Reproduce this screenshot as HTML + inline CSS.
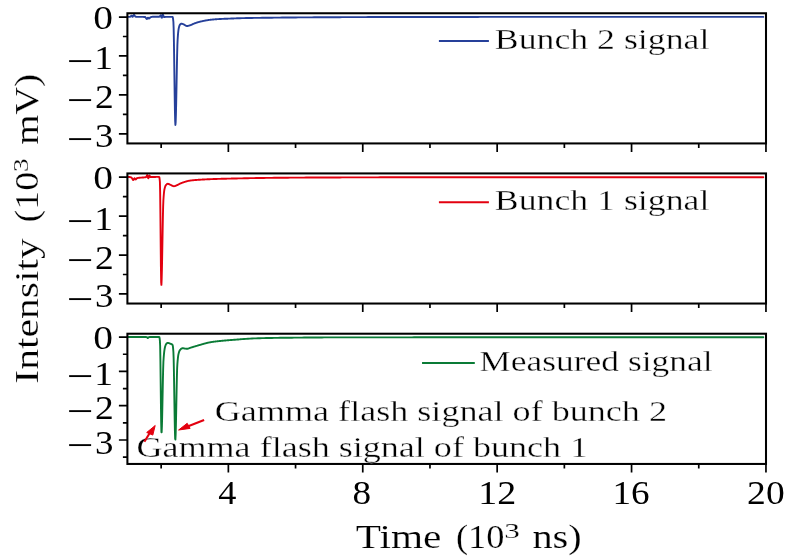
<!DOCTYPE html>
<html><head><meta charset="utf-8"><title>Intensity vs Time</title>
<style>html,body{margin:0;padding:0;background:#fff;width:785px;height:556px;overflow:hidden}svg{display:block}</style>
</head><body>
<svg width="785" height="556" viewBox="0 0 785 556">
<rect width="785" height="556" fill="#fff"/>
<clipPath id="c0"><rect x="127.4" y="13.3" width="638.6" height="130.2"/></clipPath>
<clipPath id="c1"><rect x="127.4" y="173.4" width="638.6" height="130.1"/></clipPath>
<clipPath id="c2"><rect x="127.4" y="333.7" width="638.6" height="130.2"/></clipPath>
<path d="M127.90 16.90L128.15 16.89L128.40 16.88L128.65 16.87L128.90 16.86L129.15 16.85L129.40 16.84L129.65 16.83L129.90 16.81L130.15 16.76L130.40 16.59L130.65 16.34L130.90 16.07L131.15 15.85L131.40 15.71L131.65 15.77L131.90 16.09L132.15 16.49L132.40 16.77L132.65 16.75L132.90 16.47L133.15 16.04L133.40 15.57L133.65 15.16L133.90 14.92L134.15 14.94L134.40 15.17L134.65 15.53L134.90 15.93L135.15 16.30L135.40 16.55L135.65 16.65L135.90 16.73L136.15 16.79L136.40 16.84L136.65 16.88L136.90 16.90L137.15 16.90L137.40 16.90L137.65 16.90L137.90 16.90L138.15 16.90L138.40 16.90L138.65 16.90L138.90 16.90L139.15 16.90L139.40 16.90L139.65 16.90L139.90 16.90L140.15 16.90L140.40 16.90L140.65 16.90L140.90 16.90L141.15 16.90L141.40 16.90L141.65 16.90L141.90 16.90L142.15 16.90L142.40 16.90L142.65 16.90L142.90 16.91L143.15 16.91L143.40 16.92L143.65 16.93L143.90 16.94L144.15 16.95L144.40 16.96L144.65 16.98L144.90 16.99L145.15 17.04L145.40 17.25L145.65 17.56L145.90 17.94L146.15 18.32L146.40 18.66L146.65 18.91L146.90 19L147.15 18.82L147.40 18.40L147.65 17.94L147.90 17.63L148.15 17.65L148.40 17.92L148.65 18.25L148.90 18.47L149.15 18.47L149.40 18.32L149.65 18.08L149.90 17.80L150.15 17.54L150.40 17.35L150.65 17.24L150.90 17.16L151.15 17.07L151.40 17L151.65 16.93L151.90 16.88L152.15 16.84L152.40 16.81L152.65 16.80L152.90 16.79L153.15 16.78L153.40 16.78L153.65 16.77L153.90 16.77L154.15 16.77L154.40 16.76L154.65 16.76L154.90 16.76L155.15 16.76L155.40 16.76L155.65 16.76L155.90 16.75L156.15 16.75L156.40 16.75L156.65 16.75L156.90 16.75L157.15 16.75L157.40 16.75L157.65 16.74L157.90 16.74L158.15 16.74L158.40 16.73L158.65 16.73L158.90 16.72L159.15 16.71L159.40 16.70L159.65 16.64L159.90 16.35L160.15 15.94L160.40 15.54L160.65 15.25L160.90 15.27L161.15 15.93L161.40 16.88L161.65 17.64L161.90 17.71L162.15 16.90L162.40 15.73L162.65 14.79L162.90 14.65L163.15 15.09L163.40 15.80L163.65 16.51L163.90 16.95L164.15 17L164.40 16.99L164.65 16.98L164.90 16.96L165.15 16.94L165.40 16.92L165.65 16.91L165.90 16.90L166.15 16.90L166.40 16.90L166.65 16.90L166.90 16.90L167.15 16.90L167.40 16.90L167.65 16.90L167.90 16.90L168.15 16.90L168.40 16.90L168.65 16.90L168.90 16.90L169.15 16.90L169.40 16.90L169.65 16.90L169.90 16.90L170.15 16.90L170.40 16.90L170.65 16.90L170.90 16.90L171.15 16.90L171.40 16.90L171.65 16.90L171.90 16.90L172.15 16.90L172.40 16.90L172.65 16.93L172.90 17.80L173.15 19.61L173.40 22L173.65 28.38L173.90 40.96L174.15 57.58L174.40 76.05L174.65 94.20L174.90 109.86L175.15 120.85L175.40 125L175.65 122.36L175.90 115.23L176.15 104.80L176.40 92.25L176.65 78.77L176.90 65.55L177.15 53.77L177.40 44.63L177.65 39.21L177.90 35.59L178.15 32.58L178.40 30.28L178.65 28.75L178.90 27.60L179.15 26.61L179.40 25.80L179.65 25.17L179.90 24.72L180.15 24.44L180.40 24.20L180.65 24L180.90 23.84L181.15 23.74L181.40 23.70L181.65 23.71L181.90 23.75L182.15 23.81L182.40 23.89L182.65 23.98L182.90 24.07L183.15 24.17L183.40 24.26L183.65 24.36L183.90 24.47L184.15 24.61L184.40 24.75L184.65 24.91L184.90 25.08L185.15 25.24L185.40 25.40L185.65 25.55L185.90 25.69L186.15 25.80L186.40 25.90L186.65 25.96L186.90 26L187.15 26L187.40 25.98L187.65 25.95L187.90 25.90L188.15 25.85L188.40 25.79L188.65 25.72L188.90 25.64L189.15 25.56L189.40 25.49L189.65 25.41L189.90 25.33L190.15 25.25L190.40 25.17L190.65 25.08L190.90 24.99L191.15 24.89L191.40 24.78L191.65 24.67L191.90 24.56L192.15 24.45L192.40 24.33L192.65 24.21L192.90 24.10L193.15 23.98L193.40 23.86L193.65 23.75L193.90 23.64L194.15 23.53L194.40 23.43L194.65 23.33L194.90 23.24L195.15 23.15L195.40 23.06L195.65 22.98L195.90 22.89L196.15 22.81L196.40 22.73L196.65 22.65L196.90 22.57L197.15 22.49L197.40 22.41L197.65 22.34L197.90 22.26L198.15 22.19L198.40 22.12L198.65 22.05L198.90 21.98L199.15 21.91L199.40 21.84L199.65 21.78L199.90 21.71L200.15 21.65L200.40 21.59L200.65 21.53L200.90 21.48L201.15 21.42L201.40 21.37L201.65 21.31L201.90 21.26L202.15 21.20L202.40 21.15L202.65 21.09L202.90 21.04L203.15 20.99L203.40 20.94L203.65 20.88L203.90 20.83L204.15 20.78L204.40 20.73L204.65 20.68L204.90 20.64L205.15 20.59L205.40 20.54L205.65 20.49L205.90 20.45L206.15 20.40L206.40 20.36L206.65 20.32L206.90 20.27L207.15 20.23L207.40 20.19L207.65 20.15L207.90 20.11L208.15 20.07L208.40 20.03L208.65 20L208.90 19.96L209.15 19.93L209.40 19.89L209.65 19.86L209.90 19.83L210.15 19.80L210.40 19.77L210.65 19.74L210.90 19.71L211.15 19.68L211.40 19.66L211.65 19.63L211.90 19.61L212.15 19.58L212.40 19.56L212.65 19.53L212.90 19.51L213.15 19.49L213.40 19.46L213.65 19.44L213.90 19.42L214.15 19.40L214.40 19.38L214.65 19.36L214.90 19.34L215.15 19.32L215.40 19.30L215.65 19.28L215.90 19.26L216.15 19.24L216.40 19.22L216.65 19.21L216.90 19.19L217.15 19.17L217.40 19.15L217.65 19.14L217.90 19.12L218.15 19.11L218.40 19.09L218.65 19.08L218.90 19.06L219.15 19.05L219.40 19.03L219.65 19.02L219.90 19.01L220.15 18.99L220.40 18.98L220.65 18.97L220.90 18.95L221.15 18.94L221.40 18.93L221.65 18.92L221.90 18.91L222.15 18.90L222.40 18.89L222.65 18.88L222.90 18.86L223.15 18.85L223.40 18.84L223.65 18.83L223.90 18.82L224.15 18.82L224.40 18.81L224.65 18.80L224.90 18.79L225.15 18.78L225.40 18.77L225.65 18.76L225.90 18.75L226.15 18.74L226.40 18.73L226.65 18.72L226.90 18.72L227.15 18.71L227.40 18.70L227.65 18.69L227.90 18.68L228.15 18.67L228.40 18.66L228.65 18.65L228.90 18.64L229.15 18.63L229.40 18.62L229.65 18.61L229.90 18.60L230.15 18.59L230.40 18.58L230.65 18.57L230.90 18.56L231.15 18.55L231.40 18.54L231.65 18.53L231.90 18.52L232.15 18.51L232.40 18.50L232.65 18.49L232.90 18.48L233.15 18.46L233.40 18.45L233.65 18.44L233.90 18.43L234.15 18.42L234.40 18.41L234.65 18.40L234.90 18.39L235.15 18.38L235.40 18.36L235.65 18.35L235.90 18.34L236.15 18.33L236.40 18.32L236.65 18.31L236.90 18.30L237.15 18.29L237.40 18.28L237.65 18.27L237.90 18.26L238.15 18.26L238.40 18.25L238.65 18.24L238.90 18.23L239.15 18.22L239.40 18.22L239.65 18.21L239.90 18.20L240 18.20L242 18.15L244 18.11L246 18.06L248 18.02L250 17.99L252 17.95L254 17.92L256 17.89L258 17.86L260 17.83L262 17.80L264 17.78L266 17.75L268 17.73L270 17.70L272 17.68L274 17.65L276 17.63L278 17.60L280 17.58L282 17.56L284 17.54L286 17.52L288 17.50L290 17.48L292 17.46L294 17.44L296 17.43L298 17.41L300 17.40L302 17.39L304 17.38L306 17.36L308 17.35L310 17.34L312 17.33L314 17.32L316 17.31L318 17.29L320 17.28L322 17.27L324 17.26L326 17.25L328 17.24L330 17.23L332 17.22L334 17.21L336 17.20L338 17.19L340 17.18L342 17.17L344 17.16L346 17.15L348 17.15L350 17.14L352 17.13L354 17.12L356 17.11L358 17.11L360 17.10L362 17.09L364 17.08L366 17.08L368 17.07L370 17.07L372 17.06L374 17.05L376 17.05L378 17.04L380 17.04L382 17.03L384 17.03L386 17.02L388 17.02L390 17.02L392 17.01L394 17.01L396 17.01L398 17L400 17L402 17L404 17L406 16.99L408 16.99L410 16.99L412 16.99L414 16.98L416 16.98L418 16.98L420 16.98L422 16.97L424 16.97L426 16.97L428 16.97L430 16.97L432 16.96L434 16.96L436 16.96L438 16.96L440 16.96L442 16.95L444 16.95L446 16.95L448 16.95L450 16.95L452 16.95L454 16.94L456 16.94L458 16.94L460 16.94L462 16.94L464 16.94L466 16.93L468 16.93L470 16.93L472 16.93L474 16.93L476 16.93L478 16.93L480 16.92L482 16.92L484 16.92L486 16.92L488 16.92L490 16.92L492 16.92L494 16.92L496 16.91L498 16.91L500 16.91L502 16.91L504 16.91L506 16.91L508 16.91L510 16.91L512 16.91L514 16.91L516 16.91L518 16.91L520 16.90L522 16.90L524 16.90L526 16.90L528 16.90L530 16.90L532 16.90L534 16.90L536 16.90L538 16.90L540 16.90L542 16.90L544 16.90L546 16.90L548 16.90L550 16.90L552 16.90L554 16.90L556 16.90L558 16.90L560 16.90L562 16.90L564 16.90L566 16.90L568 16.90L570 16.90L572 16.90L574 16.90L576 16.90L578 16.90L580 16.90L582 16.90L584 16.90L586 16.90L588 16.90L590 16.90L592 16.90L594 16.90L596 16.90L598 16.90L600 16.90L602 16.90L604 16.90L606 16.90L608 16.90L610 16.90L612 16.90L614 16.90L616 16.90L618 16.90L620 16.90L622 16.90L624 16.90L626 16.90L628 16.90L630 16.90L632 16.90L634 16.90L636 16.90L638 16.90L640 16.90L642 16.90L644 16.90L646 16.90L648 16.90L650 16.90L652 16.90L654 16.90L656 16.90L658 16.90L660 16.90L662 16.90L664 16.90L666 16.90L668 16.90L670 16.90L672 16.90L674 16.90L676 16.90L678 16.90L680 16.90L682 16.90L684 16.90L686 16.90L688 16.90L690 16.90L692 16.90L694 16.90L696 16.90L698 16.90L700 16.90L702 16.90L704 16.90L706 16.90L708 16.90L710 16.90L712 16.90L714 16.90L716 16.90L718 16.90L720 16.90L722 16.90L724 16.90L726 16.90L728 16.90L730 16.90L732 16.90L734 16.90L736 16.90L738 16.90L740 16.90L742 16.90L744 16.90L746 16.90L748 16.90L750 16.90L752 16.90L754 16.90L756 16.90L758 16.90L760 16.90L762 16.90L763.30 16.90" fill="none" stroke="#26409a" stroke-width="1.9" stroke-linejoin="round" stroke-linecap="round" clip-path="url(#c0)"/>
<path d="M127.90 176.90L128.15 176.92L128.40 176.94L128.65 176.96L128.90 176.98L129.15 177L129.40 177.03L129.65 177.05L129.90 177.09L130.15 177.13L130.40 177.18L130.65 177.25L130.90 177.33L131.15 177.43L131.40 177.55L131.65 177.71L131.90 178.03L132.15 178.45L132.40 178.92L132.65 179.37L132.90 179.73L133.15 179.96L133.40 179.96L133.65 179.63L133.90 179.10L134.15 178.57L134.40 178.24L134.65 178.27L134.90 178.59L135.15 179.03L135.40 179.39L135.65 179.50L135.90 179.36L136.15 179.10L136.40 178.78L136.65 178.47L136.90 178.25L137.15 178.15L137.40 178.08L137.65 178.02L137.90 177.96L138.15 177.92L138.40 177.88L138.65 177.85L138.90 177.81L139.15 177.78L139.40 177.75L139.65 177.73L139.90 177.70L140.15 177.68L140.40 177.66L140.65 177.64L140.90 177.63L141.15 177.61L141.40 177.59L141.65 177.58L141.90 177.56L142.15 177.55L142.40 177.53L142.65 177.52L142.90 177.50L143.15 177.48L143.40 177.47L143.65 177.45L143.90 177.42L144.15 177.40L144.40 177.37L144.65 177.34L144.90 177.31L145.15 177.28L145.40 177.24L145.65 177.20L145.90 177.14L146.15 177.06L146.40 176.88L146.65 176.14L146.90 175.30L147.15 175.02L147.40 175.52L147.65 176.44L147.90 177.44L148.15 178.16L148.40 178.24L148.65 177.65L148.90 176.77L149.15 175.95L149.40 175.60L149.65 175.80L149.90 176.25L150.15 176.74L150.40 177.07L150.65 177.10L150.90 177.08L151.15 177.06L151.40 177.04L151.65 177.02L151.90 177L152.15 177L152.40 176.99L152.65 176.98L152.90 176.98L153.15 176.97L153.40 176.97L153.65 176.96L153.90 176.96L154.15 176.95L154.40 176.95L154.65 176.94L154.90 176.94L155.15 176.93L155.40 176.93L155.65 176.93L155.90 176.92L156.15 176.92L156.40 176.92L156.65 176.91L156.90 176.91L157.15 176.91L157.40 176.91L157.65 176.90L157.90 176.90L158.15 176.90L158.40 176.90L158.65 176.90L158.90 176.90L159.15 176.90L159.40 177.41L159.65 179.26L159.90 182L160.15 192.76L160.40 214.66L160.65 241.19L160.90 265.89L161.15 282.27L161.40 284.91L161.65 279.81L161.90 270.32L162.15 257.84L162.40 243.80L162.65 229.58L162.90 216.60L163.15 206.27L163.40 200L163.65 196.49L163.90 193.54L164.15 191.19L164.40 189.49L164.65 188.38L164.90 187.45L165.15 186.67L165.40 186.02L165.65 185.50L165.90 185.12L166.15 184.84L166.40 184.59L166.65 184.36L166.90 184.16L167.15 183.99L167.40 183.88L167.65 183.81L167.90 183.80L168.15 183.84L168.40 183.90L168.65 183.99L168.90 184.10L169.15 184.21L169.40 184.33L169.65 184.45L169.90 184.56L170.15 184.66L170.40 184.77L170.65 184.89L170.90 185.01L171.15 185.14L171.40 185.28L171.65 185.41L171.90 185.54L172.15 185.66L172.40 185.78L172.65 185.89L172.90 185.99L173.15 186.07L173.40 186.13L173.65 186.18L173.90 186.20L174.15 186.20L174.40 186.17L174.65 186.12L174.90 186.06L175.15 185.98L175.40 185.89L175.65 185.79L175.90 185.68L176.15 185.57L176.40 185.46L176.65 185.35L176.90 185.24L177.15 185.14L177.40 185.03L177.65 184.91L177.90 184.79L178.15 184.66L178.40 184.53L178.65 184.39L178.90 184.26L179.15 184.12L179.40 183.99L179.65 183.85L179.90 183.73L180.15 183.60L180.40 183.49L180.65 183.38L180.90 183.27L181.15 183.17L181.40 183.07L181.65 182.97L181.90 182.87L182.15 182.77L182.40 182.68L182.65 182.58L182.90 182.49L183.15 182.40L183.40 182.31L183.65 182.23L183.90 182.14L184.15 182.06L184.40 181.98L184.65 181.90L184.90 181.83L185.15 181.76L185.40 181.68L185.65 181.61L185.90 181.54L186.15 181.47L186.40 181.40L186.65 181.33L186.90 181.26L187.15 181.19L187.40 181.13L187.65 181.07L187.90 181.01L188.15 180.95L188.40 180.89L188.65 180.84L188.90 180.79L189.15 180.74L189.40 180.69L189.65 180.65L189.90 180.61L190.15 180.58L190.40 180.55L190.65 180.51L190.90 180.48L191.15 180.45L191.40 180.42L191.65 180.39L191.90 180.36L192.15 180.33L192.40 180.31L192.65 180.28L192.90 180.25L193.15 180.23L193.40 180.20L193.65 180.18L193.90 180.15L194.15 180.13L194.40 180.11L194.65 180.09L194.90 180.06L195.15 180.04L195.40 180.02L195.65 180L195.90 179.98L196.15 179.96L196.40 179.94L196.65 179.93L196.90 179.91L197.15 179.89L197.40 179.87L197.65 179.85L197.90 179.84L198.15 179.82L198.40 179.80L198.65 179.79L198.90 179.77L199.15 179.75L199.40 179.74L199.65 179.72L199.90 179.71L200.15 179.69L200.40 179.68L200.65 179.66L200.90 179.64L201.15 179.63L201.40 179.61L201.65 179.60L201.90 179.59L202.15 179.57L202.40 179.56L202.65 179.54L202.90 179.53L203.15 179.51L203.40 179.50L203.65 179.49L203.90 179.47L204.15 179.46L204.40 179.45L204.65 179.43L204.90 179.42L205.15 179.41L205.40 179.40L205.65 179.38L205.90 179.37L206.15 179.36L206.40 179.35L206.65 179.34L206.90 179.32L207.15 179.31L207.40 179.30L207.65 179.29L207.90 179.28L208.15 179.27L208.40 179.26L208.65 179.24L208.90 179.23L209.15 179.22L209.40 179.21L209.65 179.20L209.90 179.19L210.15 179.18L210.40 179.17L210.65 179.16L210.90 179.15L211.15 179.14L211.40 179.13L211.65 179.12L211.90 179.11L212.15 179.10L212.40 179.09L212.65 179.08L212.90 179.07L213.15 179.07L213.40 179.06L213.65 179.05L213.90 179.04L214.15 179.03L214.40 179.02L214.65 179.01L214.90 179L215.15 178.99L215.40 178.99L215.65 178.98L215.90 178.97L216.15 178.96L216.40 178.95L216.65 178.95L216.90 178.94L217.15 178.93L217.40 178.92L217.65 178.91L217.90 178.91L218.15 178.90L218.40 178.89L218.65 178.89L218.90 178.88L219.15 178.87L219.40 178.86L219.65 178.86L219.90 178.85L220.15 178.84L220.40 178.84L220.65 178.83L220.90 178.82L221.15 178.82L221.40 178.81L221.65 178.80L221.90 178.80L222.15 178.79L222.40 178.78L222.65 178.78L222.90 178.77L223.15 178.76L223.40 178.76L223.65 178.75L223.90 178.74L224.15 178.74L224.40 178.73L224.65 178.73L224.90 178.72L225.15 178.71L225.40 178.71L225.65 178.70L225.90 178.70L226.15 178.69L226.40 178.68L226.65 178.68L226.90 178.67L227.15 178.67L227.40 178.66L227.65 178.65L227.90 178.65L228.15 178.64L228.40 178.64L228.65 178.63L228.90 178.63L229.15 178.62L229.40 178.61L229.65 178.61L229.90 178.60L230.15 178.60L230.40 178.59L230.65 178.58L230.90 178.58L231.15 178.57L231.40 178.57L231.65 178.56L231.90 178.56L232.15 178.55L232.40 178.54L232.65 178.54L232.90 178.53L233.15 178.53L233.40 178.52L233.65 178.52L233.90 178.51L234.15 178.50L234.40 178.50L234.65 178.49L234.90 178.49L235.15 178.48L235.40 178.48L235.65 178.47L235.90 178.46L236.15 178.46L236.40 178.45L236.65 178.45L236.90 178.44L237.15 178.44L237.40 178.43L237.65 178.42L237.90 178.42L238.15 178.41L238.40 178.41L238.65 178.40L238.90 178.40L239.15 178.39L239.40 178.38L239.65 178.38L239.90 178.37L240 178.37L242 178.33L244 178.28L246 178.24L248 178.20L250 178.16L252 178.13L254 178.09L256 178.06L258 178.03L260 178L262 177.97L264 177.95L266 177.92L268 177.90L270 177.87L272 177.85L274 177.82L276 177.80L278 177.78L280 177.76L282 177.74L284 177.72L286 177.70L288 177.68L290 177.67L292 177.65L294 177.64L296 177.62L298 177.61L300 177.60L302 177.59L304 177.58L306 177.57L308 177.56L310 177.55L312 177.54L314 177.53L316 177.52L318 177.52L320 177.51L322 177.50L324 177.49L326 177.48L328 177.47L330 177.47L332 177.46L334 177.45L336 177.44L338 177.44L340 177.43L342 177.42L344 177.41L346 177.41L348 177.40L350 177.39L352 177.39L354 177.38L356 177.38L358 177.37L360 177.37L362 177.36L364 177.36L366 177.35L368 177.35L370 177.34L372 177.34L374 177.33L376 177.33L378 177.33L380 177.32L382 177.32L384 177.32L386 177.31L388 177.31L390 177.31L392 177.31L394 177.30L396 177.30L398 177.30L400 177.30L402 177.30L404 177.30L406 177.30L408 177.30L410 177.29L412 177.29L414 177.29L416 177.29L418 177.29L420 177.29L422 177.29L424 177.29L426 177.29L428 177.28L430 177.28L432 177.28L434 177.28L436 177.28L438 177.28L440 177.28L442 177.28L444 177.28L446 177.28L448 177.28L450 177.27L452 177.27L454 177.27L456 177.27L458 177.27L460 177.27L462 177.27L464 177.27L466 177.27L468 177.27L470 177.27L472 177.27L474 177.26L476 177.26L478 177.26L480 177.26L482 177.26L484 177.26L486 177.26L488 177.26L490 177.26L492 177.26L494 177.26L496 177.26L498 177.26L500 177.26L502 177.26L504 177.25L506 177.25L508 177.25L510 177.25L512 177.25L514 177.25L516 177.25L518 177.25L520 177.25L522 177.25L524 177.25L526 177.25L528 177.25L530 177.25L532 177.25L534 177.25L536 177.25L538 177.25L540 177.24L542 177.24L544 177.24L546 177.24L548 177.24L550 177.24L552 177.24L554 177.24L556 177.24L558 177.24L560 177.24L562 177.24L564 177.24L566 177.24L568 177.24L570 177.24L572 177.24L574 177.24L576 177.24L578 177.24L580 177.24L582 177.24L584 177.24L586 177.23L588 177.23L590 177.23L592 177.23L594 177.23L596 177.23L598 177.23L600 177.23L602 177.23L604 177.23L606 177.23L608 177.23L610 177.23L612 177.23L614 177.23L616 177.23L618 177.23L620 177.23L622 177.23L624 177.23L626 177.23L628 177.23L630 177.23L632 177.23L634 177.23L636 177.23L638 177.23L640 177.23L642 177.22L644 177.22L646 177.22L648 177.22L650 177.22L652 177.22L654 177.22L656 177.22L658 177.22L660 177.22L662 177.22L664 177.22L666 177.22L668 177.22L670 177.22L672 177.22L674 177.22L676 177.22L678 177.22L680 177.22L682 177.22L684 177.22L686 177.22L688 177.22L690 177.22L692 177.22L694 177.22L696 177.22L698 177.22L700 177.21L702 177.21L704 177.21L706 177.21L708 177.21L710 177.21L712 177.21L714 177.21L716 177.21L718 177.21L720 177.21L722 177.21L724 177.21L726 177.21L728 177.21L730 177.21L732 177.21L734 177.21L736 177.21L738 177.21L740 177.21L742 177.21L744 177.21L746 177.21L748 177.20L750 177.20L752 177.20L754 177.20L756 177.20L758 177.20L760 177.20L762 177.20L763.30 177.20" fill="none" stroke="#e3000f" stroke-width="1.9" stroke-linejoin="round" stroke-linecap="round" clip-path="url(#c1)"/>
<path d="M127.90 336.95L128.15 336.95L128.40 336.95L128.65 336.95L128.90 336.95L129.15 336.95L129.40 336.95L129.65 336.95L129.90 336.95L130.15 336.96L130.40 336.96L130.65 336.96L130.90 336.96L131.15 336.96L131.40 336.96L131.65 336.96L131.90 336.96L132.15 336.96L132.40 336.96L132.65 336.96L132.90 336.96L133.15 336.96L133.40 336.96L133.65 336.96L133.90 336.96L134.15 336.96L134.40 336.96L134.65 336.96L134.90 336.96L135.15 336.96L135.40 336.96L135.65 336.96L135.90 336.96L136.15 336.96L136.40 336.96L136.65 336.96L136.90 336.96L137.15 336.97L137.40 336.97L137.65 336.97L137.90 336.97L138.15 336.97L138.40 336.97L138.65 336.97L138.90 336.97L139.15 336.97L139.40 336.97L139.65 336.97L139.90 336.97L140.15 336.97L140.40 336.97L140.65 336.97L140.90 336.97L141.15 336.98L141.40 336.98L141.65 336.98L141.90 336.98L142.15 336.98L142.40 336.98L142.65 336.98L142.90 336.98L143.15 336.98L143.40 336.99L143.65 336.99L143.90 336.99L144.15 336.99L144.40 336.99L144.65 336.99L144.90 337L145.15 337L145.40 337L145.65 337L145.90 337.02L146.15 337.06L146.40 337.10L146.65 337.16L146.90 337.24L147.15 337.46L147.40 337.74L147.65 337.96L147.90 337.98L148.15 337.80L148.40 337.52L148.65 337.28L148.90 337.17L149.15 337.11L149.40 337.06L149.65 337.02L149.90 337L150.15 337L150.40 337L150.65 337L150.90 337L151.15 337L151.40 337L151.65 337L151.90 337L152.15 337L152.40 337L152.65 337L152.90 337L153.15 337L153.40 337L153.65 337L153.90 337L154.15 337L154.40 337L154.65 337L154.90 337L155.15 337L155.40 337L155.65 337L155.90 337L156.15 337L156.40 337L156.65 337L156.90 337L157.15 337L157.40 337L157.65 337L157.90 337L158.15 337L158.40 337L158.65 337L158.90 337L159.15 337L159.40 337.13L159.65 338.48L159.90 340.87L160.15 345.97L160.40 360.52L160.65 381.01L160.90 402.84L161.15 421.44L161.40 432.21L161.65 432.27L161.90 426.58L162.15 417.12L162.40 405.28L162.65 392.44L162.90 379.99L163.15 369.32L163.40 361.81L163.65 357.96L163.90 354.95L164.15 352.41L164.40 350.35L164.65 348.74L164.90 347.57L165.15 346.58L165.40 345.73L165.65 345.02L165.90 344.46L166.15 344.06L166.40 343.78L166.65 343.53L166.90 343.30L167.15 343.12L167.40 342.99L167.65 342.91L167.90 342.90L168.15 342.93L168.40 342.98L168.65 343.05L168.90 343.14L169.15 343.24L169.40 343.35L169.65 343.45L169.90 343.56L170.15 343.66L170.40 343.74L170.65 343.82L170.90 343.90L171.15 343.98L171.40 344.08L171.65 344.20L171.90 344.36L172.15 344.54L172.40 344.78L172.65 345.09L172.90 346.41L173.15 348.85L173.40 352L173.65 358.71L173.90 370.75L174.15 386.05L174.40 402.55L174.65 418.19L174.90 430.93L175.15 438.69L175.40 439.62L175.65 434.71L175.90 425.65L176.15 413.85L176.40 400.75L176.65 387.80L176.90 376.40L177.15 368L177.40 363.64L177.65 360.58L177.90 358.03L178.15 355.99L178.40 354.46L178.65 353.39L178.90 352.48L179.15 351.70L179.40 351.05L179.65 350.53L179.90 350.13L180.15 349.83L180.40 349.55L180.65 349.29L180.90 349.06L181.15 348.84L181.40 348.65L181.65 348.49L181.90 348.36L182.15 348.27L182.40 348.21L182.65 348.20L182.90 348.21L183.15 348.24L183.40 348.28L183.65 348.33L183.90 348.39L184.15 348.44L184.40 348.50L184.65 348.55L184.90 348.59L185.15 348.62L185.40 348.65L185.65 348.68L185.90 348.71L186.15 348.74L186.40 348.76L186.65 348.78L186.90 348.79L187.15 348.80L187.40 348.79L187.65 348.76L187.90 348.70L188.15 348.63L188.40 348.54L188.65 348.44L188.90 348.33L189.15 348.23L189.40 348.12L189.65 348.02L189.90 347.93L190.15 347.85L190.40 347.78L190.65 347.70L190.90 347.62L191.15 347.54L191.40 347.46L191.65 347.39L191.90 347.31L192.15 347.23L192.40 347.15L192.65 347.08L192.90 347L193.15 346.92L193.40 346.85L193.65 346.77L193.90 346.69L194.15 346.62L194.40 346.54L194.65 346.46L194.90 346.39L195.15 346.31L195.40 346.24L195.65 346.16L195.90 346.09L196.15 346.01L196.40 345.94L196.65 345.86L196.90 345.79L197.15 345.72L197.40 345.64L197.65 345.57L197.90 345.50L198.15 345.43L198.40 345.35L198.65 345.28L198.90 345.21L199.15 345.14L199.40 345.07L199.65 345L199.90 344.93L200.15 344.86L200.40 344.79L200.65 344.72L200.90 344.65L201.15 344.57L201.40 344.50L201.65 344.43L201.90 344.36L202.15 344.28L202.40 344.21L202.65 344.14L202.90 344.07L203.15 343.99L203.40 343.92L203.65 343.85L203.90 343.78L204.15 343.71L204.40 343.64L204.65 343.57L204.90 343.50L205.15 343.43L205.40 343.36L205.65 343.29L205.90 343.22L206.15 343.16L206.40 343.09L206.65 343.03L206.90 342.97L207.15 342.90L207.40 342.84L207.65 342.78L207.90 342.73L208.15 342.67L208.40 342.61L208.65 342.56L208.90 342.51L209.15 342.46L209.40 342.41L209.65 342.36L209.90 342.32L210.15 342.27L210.40 342.23L210.65 342.19L210.90 342.15L211.15 342.11L211.40 342.07L211.65 342.03L211.90 341.99L212.15 341.95L212.40 341.92L212.65 341.88L212.90 341.85L213.15 341.81L213.40 341.78L213.65 341.74L213.90 341.71L214.15 341.68L214.40 341.64L214.65 341.61L214.90 341.58L215.15 341.55L215.40 341.52L215.65 341.49L215.90 341.46L216.15 341.43L216.40 341.40L216.65 341.37L216.90 341.34L217.15 341.31L217.40 341.28L217.65 341.25L217.90 341.23L218.15 341.20L218.40 341.17L218.65 341.14L218.90 341.12L219.15 341.09L219.40 341.06L219.65 341.04L219.90 341.01L220.15 340.98L220.40 340.96L220.65 340.93L220.90 340.91L221.15 340.88L221.40 340.85L221.65 340.83L221.90 340.80L222.15 340.78L222.40 340.76L222.65 340.73L222.90 340.71L223.15 340.68L223.40 340.66L223.65 340.64L223.90 340.61L224.15 340.59L224.40 340.57L224.65 340.54L224.90 340.52L225.15 340.50L225.40 340.48L225.65 340.46L225.90 340.43L226.15 340.41L226.40 340.39L226.65 340.37L226.90 340.35L227.15 340.33L227.40 340.31L227.65 340.29L227.90 340.27L228.15 340.25L228.40 340.23L228.65 340.21L228.90 340.19L229.15 340.17L229.40 340.15L229.65 340.13L229.90 340.11L230.15 340.09L230.40 340.07L230.65 340.05L230.90 340.03L231.15 340.01L231.40 339.99L231.65 339.97L231.90 339.95L232.15 339.93L232.40 339.91L232.65 339.89L232.90 339.88L233.15 339.86L233.40 339.84L233.65 339.82L233.90 339.80L234.15 339.78L234.40 339.76L234.65 339.74L234.90 339.72L235.15 339.70L235.40 339.68L235.65 339.66L235.90 339.64L236.15 339.62L236.40 339.60L236.65 339.58L236.90 339.56L237.15 339.54L237.40 339.52L237.65 339.50L237.90 339.48L238.15 339.46L238.40 339.45L238.65 339.43L238.90 339.41L239.15 339.39L239.40 339.37L239.65 339.35L239.90 339.33L240 339.32L242 339.17L244 339.03L246 338.89L248 338.76L250 338.63L252 338.52L254 338.42L256 338.33L258 338.26L260 338.20L262 338.15L264 338.11L266 338.06L268 338.02L270 337.98L272 337.95L274 337.91L276 337.88L278 337.85L280 337.82L282 337.79L284 337.77L286 337.74L288 337.72L290 337.70L292 337.68L294 337.66L296 337.64L298 337.62L300 337.60L302 337.58L304 337.56L306 337.55L308 337.53L310 337.51L312 337.49L314 337.48L316 337.46L318 337.45L320 337.44L322 337.43L324 337.42L326 337.41L328 337.40L330 337.40L332 337.40L334 337.40L336 337.39L338 337.39L340 337.39L342 337.39L344 337.38L346 337.38L348 337.38L350 337.38L352 337.38L354 337.37L356 337.37L358 337.37L360 337.37L362 337.37L364 337.36L366 337.36L368 337.36L370 337.36L372 337.36L374 337.36L376 337.35L378 337.35L380 337.35L382 337.35L384 337.35L386 337.34L388 337.34L390 337.34L392 337.34L394 337.34L396 337.34L398 337.34L400 337.33L402 337.33L404 337.33L406 337.33L408 337.33L410 337.33L412 337.33L414 337.32L416 337.32L418 337.32L420 337.32L422 337.32L424 337.32L426 337.32L428 337.31L430 337.31L432 337.31L434 337.31L436 337.31L438 337.31L440 337.31L442 337.31L444 337.30L446 337.30L448 337.30L450 337.30L452 337.30L454 337.30L456 337.30L458 337.30L460 337.30L462 337.30L464 337.29L466 337.29L468 337.29L470 337.29L472 337.29L474 337.29L476 337.29L478 337.29L480 337.29L482 337.29L484 337.28L486 337.28L488 337.28L490 337.28L492 337.28L494 337.28L496 337.28L498 337.28L500 337.28L502 337.28L504 337.28L506 337.28L508 337.28L510 337.27L512 337.27L514 337.27L516 337.27L518 337.27L520 337.27L522 337.27L524 337.27L526 337.27L528 337.27L530 337.27L532 337.27L534 337.27L536 337.27L538 337.27L540 337.26L542 337.26L544 337.26L546 337.26L548 337.26L550 337.26L552 337.26L554 337.26L556 337.26L558 337.26L560 337.26L562 337.26L564 337.26L566 337.26L568 337.26L570 337.26L572 337.26L574 337.26L576 337.25L578 337.25L580 337.25L582 337.25L584 337.25L586 337.25L588 337.25L590 337.25L592 337.25L594 337.25L596 337.25L598 337.25L600 337.25L602 337.25L604 337.25L606 337.25L608 337.25L610 337.25L612 337.25L614 337.25L616 337.25L618 337.24L620 337.24L622 337.24L624 337.24L626 337.24L628 337.24L630 337.24L632 337.24L634 337.24L636 337.24L638 337.24L640 337.24L642 337.24L644 337.24L646 337.24L648 337.24L650 337.24L652 337.24L654 337.24L656 337.24L658 337.24L660 337.24L662 337.23L664 337.23L666 337.23L668 337.23L670 337.23L672 337.23L674 337.23L676 337.23L678 337.23L680 337.23L682 337.23L684 337.23L686 337.23L688 337.23L690 337.23L692 337.23L694 337.23L696 337.23L698 337.23L700 337.22L702 337.22L704 337.22L706 337.22L708 337.22L710 337.22L712 337.22L714 337.22L716 337.22L718 337.22L720 337.22L722 337.22L724 337.22L726 337.22L728 337.22L730 337.21L732 337.21L734 337.21L736 337.21L738 337.21L740 337.21L742 337.21L744 337.21L746 337.21L748 337.21L750 337.21L752 337.21L754 337.21L756 337.20L758 337.20L760 337.20L762 337.20L763.30 337.20" fill="none" stroke="#0a7b36" stroke-width="1.9" stroke-linejoin="round" stroke-linecap="round" clip-path="url(#c2)"/>
<rect x="127.40" y="13.26" width="638.60" height="130.17" fill="none" stroke="#000" stroke-width="2.05"/>
<path d="M118.90 17.03H127.40M118.90 55.95H127.40M118.90 94.87H127.40M118.90 133.79H127.40M122.90 36.49H127.40M122.90 75.41H127.40M122.90 114.33H127.40M228.36 143.43V151.93M362.76 143.43V151.93M497.16 143.43V151.93M631.56 143.43V151.93M765.96 143.43V151.93M161.16 143.43V147.93M295.56 143.43V147.93M429.96 143.43V147.93M564.36 143.43V147.93M698.76 143.43V147.93" stroke="#000" stroke-width="1.7" fill="none"/>
<rect x="127.40" y="173.43" width="638.60" height="130.10" fill="none" stroke="#000" stroke-width="2.05"/>
<path d="M118.90 177.20H127.40M118.90 216.12H127.40M118.90 255.04H127.40M118.90 293.96H127.40M122.90 196.66H127.40M122.90 235.58H127.40M122.90 274.50H127.40M228.36 303.53V312.03M362.76 303.53V312.03M497.16 303.53V312.03M631.56 303.53V312.03M765.96 303.53V312.03M161.16 303.53V308.03M295.56 303.53V308.03M429.96 303.53V308.03M564.36 303.53V308.03M698.76 303.53V308.03" stroke="#000" stroke-width="1.7" fill="none"/>
<rect x="127.40" y="333.72" width="638.60" height="130.23" fill="none" stroke="#000" stroke-width="2.05"/>
<path d="M118.90 337.12H127.40M118.90 371.42H127.40M118.90 405.72H127.40M118.90 440.02H127.40M122.90 354.27H127.40M122.90 388.57H127.40M122.90 422.87H127.40M122.90 457.17H127.40M228.36 463.95V472.45M362.76 463.95V472.45M497.16 463.95V472.45M631.56 463.95V472.45M765.96 463.95V472.45M161.16 463.95V468.45M295.56 463.95V468.45M429.96 463.95V468.45M564.36 463.95V468.45M698.76 463.95V468.45" stroke="#000" stroke-width="1.7" fill="none"/>
<g font-family='"Liberation Serif", "DejaVu Serif", serif' fill="#000" stroke="#fff" stroke-width="0.35">
<text transform="translate(494.81 48.90) scale(1.1921 1.000)" font-size="30">Bunch 2 signal</text>
<text transform="translate(494.81 209.90) scale(1.1921 1.000)" font-size="30">Bunch 1 signal</text>
<text transform="translate(479.32 370.70) scale(1.1816 1.000)" font-size="30">Measured signal</text>
<text transform="translate(214.79 420.70) scale(1.2040 1.000)" font-size="30">Gamma flash signal of bunch 2</text>
<text transform="translate(136.50 456.70) scale(1.2024 1.000)" font-size="30">Gamma flash signal of bunch 1</text>
<text transform="translate(355.69 547.80) scale(1.2146 1.000)" font-size="34" stroke-width="0.2">Time</text>
<text transform="translate(455.99 547.80) scale(1.0706 1.000)" font-size="34" stroke-width="0.2">(10</text>
<text transform="translate(504.13 537.70) scale(1.4171 1.000)" font-size="22" stroke-width="0.2">3</text>
<text transform="translate(532.41 547.80) scale(1.1872 1.000)" font-size="34" stroke-width="0.2">ns)</text>
<text transform="translate(38.00 382.10) rotate(-90) translate(-1.53 0) scale(1.2221 1.000)" font-size="34" stroke-width="0.2">Intensity</text>
<text transform="translate(38.00 220.80) rotate(-90) translate(-1.68 0) scale(1.1176 1.000)" font-size="34" stroke-width="0.2">(10</text>
<text transform="translate(28.00 170.50) rotate(-90) translate(-1.54 0) scale(1.2343 1.000)" font-size="22" stroke-width="0.2">3</text>
<text transform="translate(38.00 144.00) rotate(-90) translate(-0.86 0) scale(1.1400 1.000)" font-size="34" stroke-width="0.2">mV)</text>
<text transform="translate(218.19 504.10) scale(1.0839 1.000)" font-size="33.5" stroke-width="0.0">4</text>
<text transform="translate(352.51 504.10) scale(1.1088 1.000)" font-size="33.5" stroke-width="0.0">8</text>
<text transform="translate(478.20 504.10) scale(1.1339 1.000)" font-size="33.5" stroke-width="0.0">12</text>
<text transform="translate(612.47 504.10) scale(1.1085 1.000)" font-size="33.5" stroke-width="0.0">16</text>
<text transform="translate(747.12 504.10) scale(1.1220 1.000)" font-size="33.5" stroke-width="0.0">20</text>
<text transform="translate(93.33 28.53) scale(1.1789 1.000)" font-size="33.5" stroke-width="0.0">0</text>
<text transform="translate(94.23 69.45) scale(1.1234 1.000)" font-size="33.5" stroke-width="0.0">1</text>
<text transform="translate(66.63 73.74) scale(1.4129 1.150)" font-size="33.5" stroke-width="0">&#8722;</text>
<text transform="translate(95.12 108.37) scale(1.1185 1.000)" font-size="33.5" stroke-width="0.0">2</text>
<text transform="translate(66.63 112.66) scale(1.4129 1.150)" font-size="33.5" stroke-width="0">&#8722;</text>
<text transform="translate(95.05 147.29) scale(1.1000 1.000)" font-size="33.5" stroke-width="0.0">3</text>
<text transform="translate(66.63 151.58) scale(1.4129 1.150)" font-size="33.5" stroke-width="0">&#8722;</text>
<text transform="translate(93.33 188.70) scale(1.1789 1.000)" font-size="33.5" stroke-width="0.0">0</text>
<text transform="translate(94.23 229.62) scale(1.1234 1.000)" font-size="33.5" stroke-width="0.0">1</text>
<text transform="translate(66.63 233.91) scale(1.4129 1.150)" font-size="33.5" stroke-width="0">&#8722;</text>
<text transform="translate(95.12 268.54) scale(1.1185 1.000)" font-size="33.5" stroke-width="0.0">2</text>
<text transform="translate(66.63 272.83) scale(1.4129 1.150)" font-size="33.5" stroke-width="0">&#8722;</text>
<text transform="translate(95.05 307.46) scale(1.1000 1.000)" font-size="33.5" stroke-width="0.0">3</text>
<text transform="translate(66.63 311.75) scale(1.4129 1.150)" font-size="33.5" stroke-width="0">&#8722;</text>
<text transform="translate(93.33 348.62) scale(1.1789 1.000)" font-size="33.5" stroke-width="0.0">0</text>
<text transform="translate(94.23 384.92) scale(1.1234 1.000)" font-size="33.5" stroke-width="0.0">1</text>
<text transform="translate(66.63 389.21) scale(1.4129 1.150)" font-size="33.5" stroke-width="0">&#8722;</text>
<text transform="translate(95.12 419.22) scale(1.1185 1.000)" font-size="33.5" stroke-width="0.0">2</text>
<text transform="translate(66.63 423.51) scale(1.4129 1.150)" font-size="33.5" stroke-width="0">&#8722;</text>
<text transform="translate(95.05 453.52) scale(1.1000 1.000)" font-size="33.5" stroke-width="0.0">3</text>
<text transform="translate(66.63 457.81) scale(1.4129 1.150)" font-size="33.5" stroke-width="0">&#8722;</text>
</g><g>
<path d="M438.9 41.05H488.9" stroke="#26409a" stroke-width="2"/>
<path d="M438.9 202.2H488.9" stroke="#e3000f" stroke-width="2"/>
<path d="M422.05 362.95H474.8" stroke="#0a7b36" stroke-width="2"/>
</g>
<g fill="#e3000f" stroke="#e3000f" stroke-linejoin="round">
<path d="M144.4 441.7L150.8 431.2" stroke-width="2.1" fill="none"/>
<path d="M155.2 425.5L146.7 432.5L152.8 435.1Z" stroke-width="1"/>
<path d="M204.1 420.0L188.2 426.3" stroke-width="2.1" fill="none"/>
<path d="M178.6 430.0L187.2 423.3L190.1 428.4Z" stroke-width="1"/>
</g>
</svg>
</body></html>
